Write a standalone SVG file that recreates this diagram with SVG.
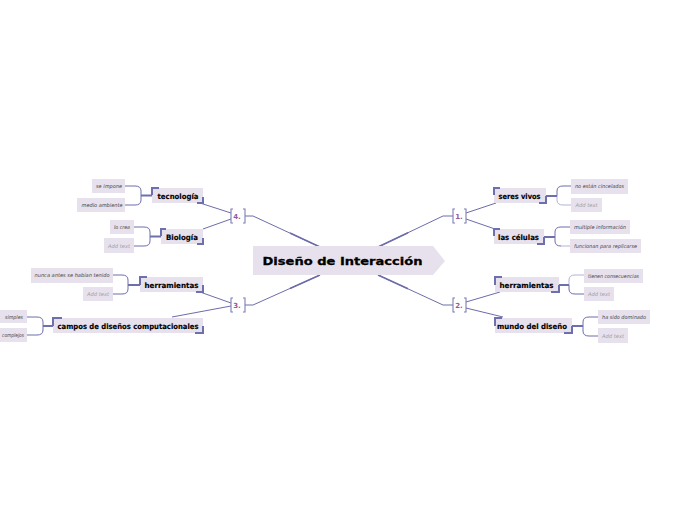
<svg xmlns="http://www.w3.org/2000/svg" width="697" height="520" viewBox="0 0 697 520">
<style>
.bg{fill:#e7e1ed}
.r{font-family:"DejaVu Sans",sans-serif;font-weight:700;font-size:11px;fill:#000;stroke:#000;stroke-width:.3;text-anchor:middle}
.t{font-family:"DejaVu Sans",sans-serif;font-weight:700;font-size:7.5px;fill:#000;stroke:#000;stroke-width:.15;text-anchor:middle}
.c{font-family:"DejaVu Sans",sans-serif;font-style:italic;font-size:5.2px;fill:#444;text-anchor:middle}
.a{font-family:"DejaVu Sans",sans-serif;font-style:italic;font-size:5.2px;fill:#a0a0a0;text-anchor:middle}
.n{font-family:"DejaVu Sans",sans-serif;font-weight:700;font-size:7px;fill:#93589a;text-anchor:middle}
.l{fill:none;stroke:#6d6cab;stroke-width:1}
.m{fill:none;stroke:#6d6cab;stroke-width:1.6}
.k{fill:none;stroke:#6d70ad;stroke-width:2}
.f{fill:none;stroke:#b3b3d5;stroke-width:1}
.b{fill:none;stroke:#7d7db5;stroke-width:1.1}
</style>
<g id="connectors">
<path class="l" d="M245 216H253L320 247" />
<path class="l" d="M453 216H443L378 247" />
<path class="l" d="M245 305H253L320 275" />
<path class="l" d="M453 305H443L378 275" />
<path class="m" d="M290 233.100L320 247M408 232.700L378 247M290 288.400L320 275M408 288.800L378 275" />
<path class="l" d="M200 203L231 213M203 229L231 219M200 292L231 303M172 317L231 306" />
<path class="l" d="M466 213L496 203M466 219L495 229M466 302L500 292M466 308L503 317" />
<path class="l" d="M125 186H135Q141 186 141 191V200Q141 205 135 205H125" />
<path class="k" d="M141 195.500H152" />
<path class="l" d="M134 227H144Q150 227 150 232V241Q150 246 144 246H134" />
<path class="k" d="M150 236.500H161" />
<path class="l" d="M113 275H122Q128 275 128 280V289Q128 294 122 294H113" />
<path class="k" d="M128 285H140" />
<path class="l" d="M27 317H37Q43 317 43 322V330Q43 335 37 335H27" />
<path class="k" d="M43 326H53" />
<path class="l" d="M571 186H563Q557 186 557 191V196" />
<path class="f" d="M557 196V200Q557 205 563 205H571" />
<path class="k" d="M546 196H557" />
<path class="l" d="M570 227H561Q555 227 555 232V241Q555 246 561 246" />
<path class="f" d="M561 246H570" />
<path class="k" d="M544 237H555" />
<path class="f" d="M584 275H575Q569 275 569 280V285" />
<path class="l" d="M569 285V289Q569 294 575 294H584" />
<path class="k" d="M559 285H569" />
<path class="l" d="M598 317H589Q583 317 583 322V331Q583 336 589 336H598" />
<path class="k" d="M572 326H583" />
</g>
<g id="root"><polygon class="bg" points="253,246 433,246 445,261 433,275 253,275"/><text class="r" x="342.500" y="265" textLength="160" lengthAdjust="spacingAndGlyphs">Diseño de Interacción</text></g>
<g id="b4"><path class="b" d="M233 209H231V223H233M243 209H245V223H243"/><text class="n" x="237" y="219">4.</text></g>
<g id="b1"><path class="b" d="M455 209H453V223H455M464 209H466V223H464"/><text class="n" x="459" y="219">1.</text></g>
<g id="b3"><path class="b" d="M233 298H231V312H233M243 298H245V312H243"/><text class="n" x="237" y="308">3.</text></g>
<g id="b2"><path class="b" d="M455 298H453V312H455M464 298H466V312H464"/><text class="n" x="459" y="308">2.</text></g>
<g id="tecnologia"><rect class="bg" x="152" y="188" width="51" height="15"/><path class="k" d="M152 195V188H159M197 203H203V197"/><text class="t" x="178" y="198.500" textLength="41" lengthAdjust="spacingAndGlyphs">tecnología</text></g>
<g id="biologia"><rect class="bg" x="161" y="229" width="42" height="15"/><path class="k" d="M161 236V229H166M197 244H203V238"/><text class="t" x="182" y="239.500" textLength="32" lengthAdjust="spacingAndGlyphs">Biología</text></g>
<g id="herramientas-l"><rect class="bg" x="140" y="277" width="63" height="15"/><path class="k" d="M140 285V277H147M196 292H203V285"/><text class="t" x="171.500" y="287.500" textLength="54" lengthAdjust="spacingAndGlyphs">herramientas</text></g>
<g id="campos"><rect class="bg" x="53" y="318" width="150" height="15"/><path class="k" d="M53 326V318H62M195 333H203V326"/><text class="t" x="128" y="328.500" textLength="141" lengthAdjust="spacingAndGlyphs">campos de diseños computacionales</text></g>
<g id="seres"><rect class="bg" x="494" y="188" width="52" height="15"/><path class="k" d="M494 195V188H500M539 203H546V196"/><text class="t" x="519.500" y="198.500" textLength="42" lengthAdjust="spacingAndGlyphs">seres vivos</text></g>
<g id="celulas"><rect class="bg" x="494" y="229" width="50" height="15"/><path class="k" d="M494 236V229H500M537 244H544V237"/><text class="t" x="518.500" y="239.500" textLength="41" lengthAdjust="spacingAndGlyphs">las células</text></g>
<g id="herramientas-r"><rect class="bg" x="495" y="277" width="64" height="15"/><path class="k" d="M495 285V277H502M551 292H559V285"/><text class="t" x="526.500" y="287.500" textLength="54" lengthAdjust="spacingAndGlyphs">herramientas</text></g>
<g id="mundo"><rect class="bg" x="495" y="318" width="77" height="15"/><path class="k" d="M495 326V318H502M564 333H572V326"/><text class="t" x="532" y="328.500" textLength="70" lengthAdjust="spacingAndGlyphs">mundo del diseño</text></g>
<g id="c1"><rect class="bg" x="92" y="179" width="33" height="14"/><text class="c" x="109" y="188" textLength="26" lengthAdjust="spacingAndGlyphs">se impone</text></g>
<g id="c2"><rect class="bg" x="77" y="198" width="48" height="14"/><text class="c" x="102" y="207" textLength="41" lengthAdjust="spacingAndGlyphs">medio ambiente</text></g>
<g id="c3"><rect class="bg" x="110" y="220" width="24" height="14"/><text class="c" x="122" y="229" textLength="16" lengthAdjust="spacingAndGlyphs">lo crea</text></g>
<g id="c4"><rect class="bg" x="104" y="238" width="30" height="15"/><text class="a" x="119" y="248" textLength="22" lengthAdjust="spacingAndGlyphs">Add text</text></g>
<g id="c5"><rect class="bg" x="31" y="268" width="82" height="15"/><text class="c" x="72" y="277" textLength="75" lengthAdjust="spacingAndGlyphs">nunca antes se habían tenido</text></g>
<g id="c6"><rect class="bg" x="83" y="287" width="30" height="14"/><text class="a" x="98" y="296" textLength="22" lengthAdjust="spacingAndGlyphs">Add text</text></g>
<g id="c7"><rect class="bg" x="0" y="310" width="27" height="13"/><text class="c" x="14" y="318.500" textLength="18" lengthAdjust="spacingAndGlyphs">simples</text></g>
<g id="c8"><rect class="bg" x="0" y="328" width="27" height="14"/><text class="c" x="13" y="337" textLength="22" lengthAdjust="spacingAndGlyphs">complejos</text></g>
<g id="c9"><rect class="bg" x="571" y="179" width="57" height="15"/><text class="c" x="599.500" y="188" textLength="49" lengthAdjust="spacingAndGlyphs">no están cincelados</text></g>
<g id="c10"><rect class="bg" x="571" y="198" width="31" height="14"/><text class="a" x="586.500" y="207" textLength="22" lengthAdjust="spacingAndGlyphs">Add text</text></g>
<g id="c11"><rect class="bg" x="570" y="220" width="60" height="14"/><text class="c" x="600" y="229" textLength="52" lengthAdjust="spacingAndGlyphs">multiple información</text></g>
<g id="c12"><rect class="bg" x="570" y="239" width="71" height="14"/><text class="c" x="605.500" y="248" textLength="63" lengthAdjust="spacingAndGlyphs">funcionan para replicarse</text></g>
<g id="c13"><rect class="bg" x="584" y="269" width="59" height="14"/><text class="c" x="613.500" y="277.500" textLength="51" lengthAdjust="spacingAndGlyphs">tienen consecuencias</text></g>
<g id="c14"><rect class="bg" x="584" y="287" width="30" height="14"/><text class="a" x="599" y="296" textLength="22" lengthAdjust="spacingAndGlyphs">Add text</text></g>
<g id="c15"><rect class="bg" x="598" y="310" width="52" height="14"/><text class="c" x="624" y="318.500" textLength="44" lengthAdjust="spacingAndGlyphs">ha sido dominado</text></g>
<g id="c16"><rect class="bg" x="598" y="328" width="30" height="15"/><text class="a" x="613" y="337.500" textLength="22" lengthAdjust="spacingAndGlyphs">Add text</text></g>
</svg>
